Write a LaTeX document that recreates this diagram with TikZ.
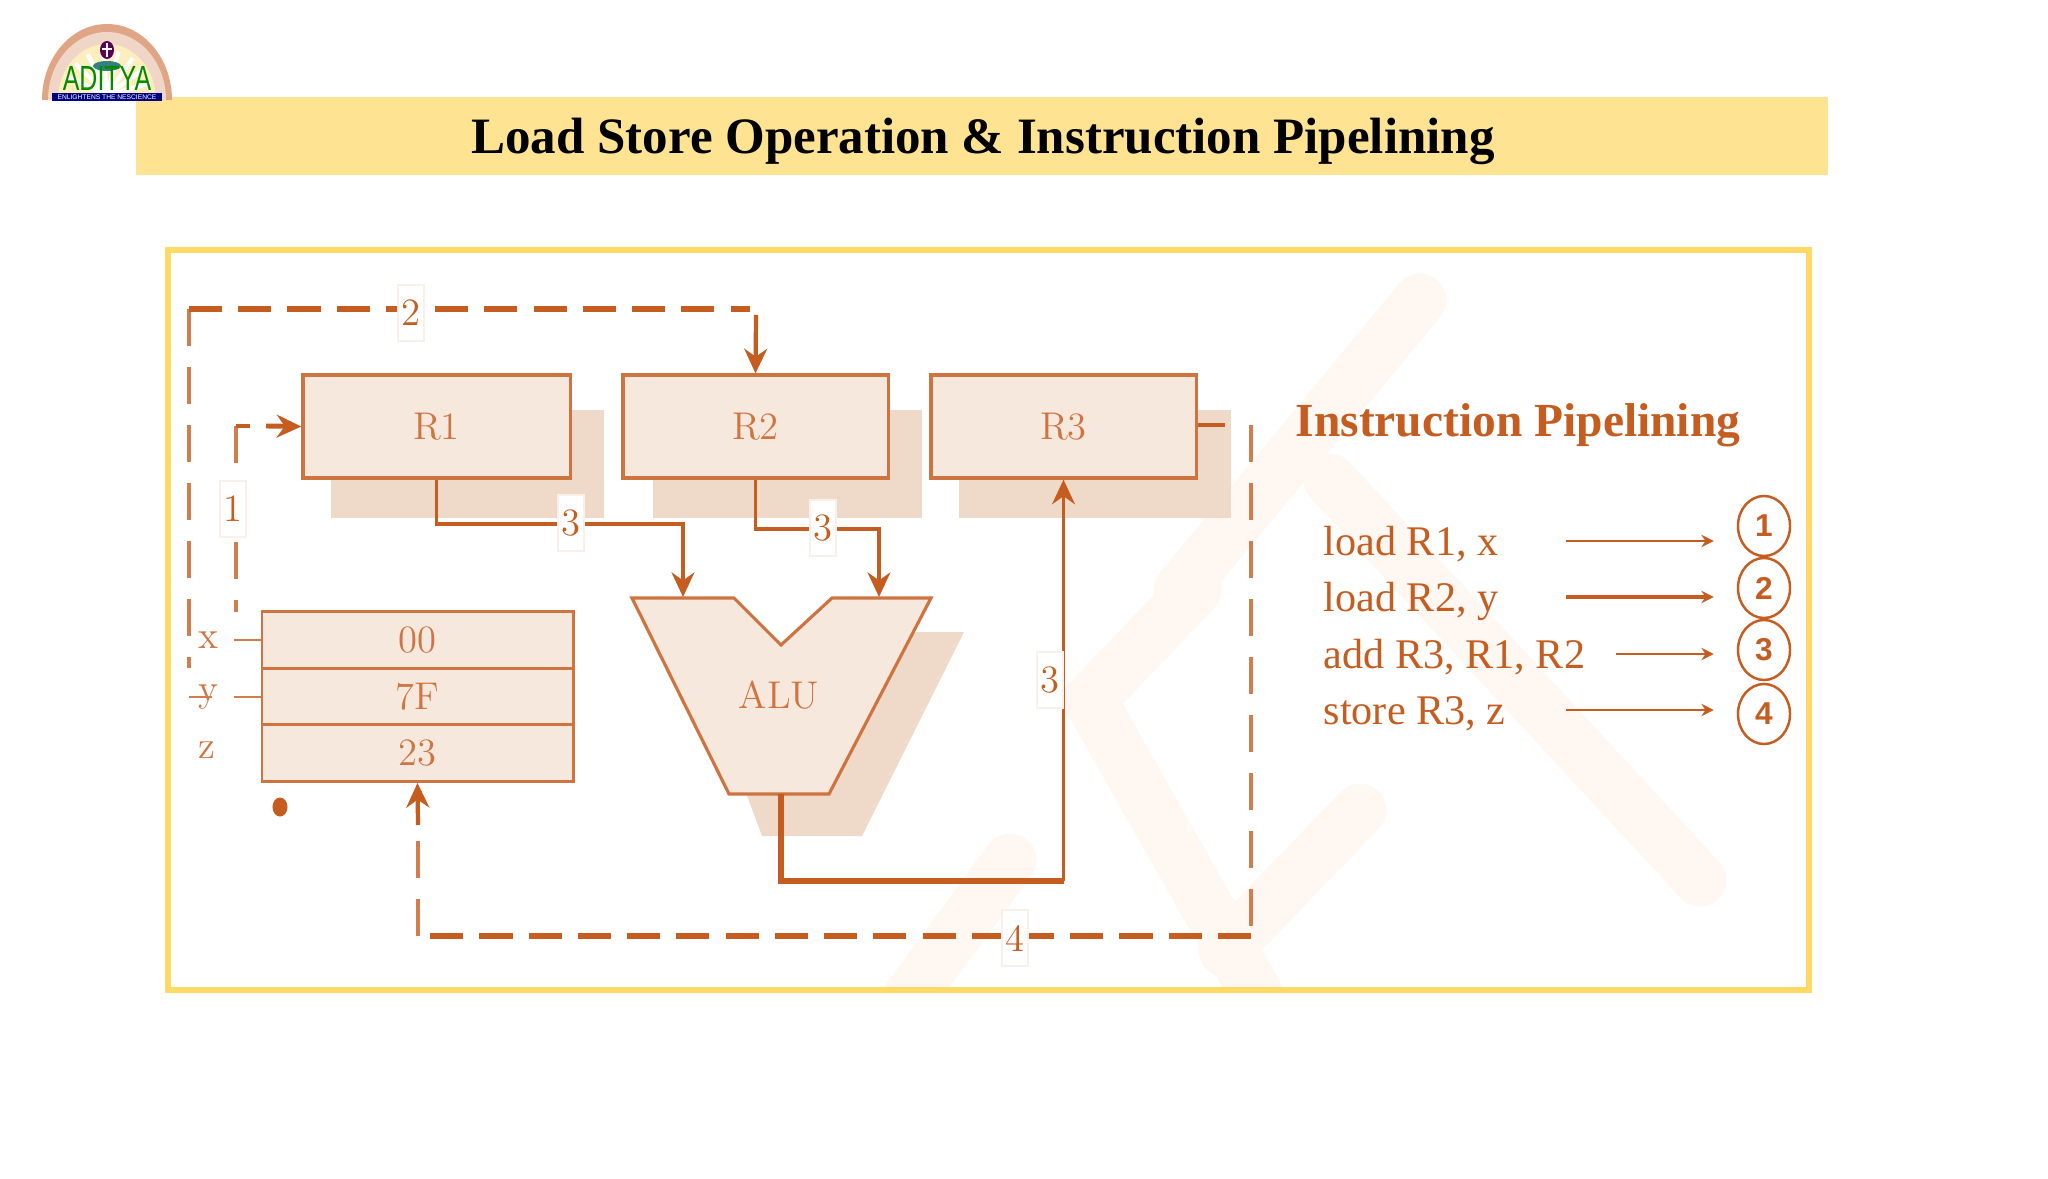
\documentclass[tikz,border=0pt]{standalone}
\usepackage{fontspec}
\newfontfamily\timesfont{Liberation Serif}
\newfontfamily\numfont{Liberation Sans}
\usetikzlibrary{arrows.meta, shapes.geometric}
\definecolor{band}{RGB}{253,227,146}
\definecolor{frameline}{RGB}{255,217,102}
\definecolor{rust}{RGB}{197,92,32}
\definecolor{boxfill}{RGB}{247,232,222}
\definecolor{dropfill}{RGB}{239,217,200}
\definecolor{wmark}{RGB}{254,247,242}
\tikzset{
    regbox/.style={draw=rust!85, line width=.9pt, fill=boxfill, text=rust!85, minimum width=2.65cm, minimum height=1.03cm, inner sep=0pt, font=\fontsize{11}{11}\selectfont},
    memcell/.style={draw=rust!85, line width=.8pt, fill=boxfill, text=rust!85, minimum width=3.11cm, minimum height=.57cm, inner sep=0pt, font=\fontsize{11}{11}\selectfont},
    flowline/.style={draw=rust, line width=1pt},
    dashh/.style={draw=rust, line width=1.8pt, dash pattern=on 9.4pt off 4.6pt},
    dashv/.style={draw=rust!80, line width=1pt, dash pattern=on 10.5pt off 6pt},
    stepnum/.style={fill=white, draw=dropfill!40, line width=.3pt, text=rust, inner sep=1pt, minimum height=.56cm, minimum width=.2cm, font=\fontsize{11}{11}\selectfont},
    instr/.style={text=rust, anchor=west, inner sep=0pt, font=\timesfont\fontsize{12}{12}\selectfont},
    numring/.style={draw=rust, ellipse, line width=.7pt, minimum width=.52cm, minimum height=.6cm, inner sep=0pt, text=rust, font=\numfont\bfseries\fontsize{9}{9}\selectfont},
    wbar/.style={draw=wmark, line width=15pt, line cap=round},
}
\begin{document}
\begin{tikzpicture}[x=0.01cm, y=-0.01cm, >={Stealth[length=7pt,width=6.5pt]}]
    \useasboundingbox (0,0) rectangle (2048,1179);
    \fill[white] (0,0) rectangle (2048,1179);
    % Watermark
    \begin{scope}
        \clip (168,249) rectangle (1809,991);
        \draw[wbar] (1420,300) -- (1180,590);
        \draw[wbar] (1330,480) -- (1700,880);
        \draw[wbar] (1195,590) -- (1090,700) -- (1260,1000);
        \draw[wbar] (1360,810) -- (1225,950);
        \draw[wbar] (1010,860) -- (900,1010);
    \end{scope}
    % Title band
    \fill[band] (136,97) rectangle (1828,175);
    \node[inner sep=0pt, font=\timesfont\bfseries\fontsize{14.5}{14.5}\selectfont] (title) at (983,141) {Load Store Operation \& Instruction Pipelining};
    \draw[frameline, line width=1.9pt] (168,250) rectangle (1809,990);
    % Logo
    \fill[rust!55] (42,100) arc[start angle=180, end angle=360, x radius=65, y radius=76];
    \fill[white!75!rust] (48,100) arc[start angle=180, end angle=360, x radius=59, y radius=68];
    \fill[band!60] (58,100) arc[start angle=180, end angle=360, x radius=49, y radius=56];
    \foreach \a in {15,35,...,165}
        \draw[white, line width=1.2pt] (107,95) -- ++({-\a}:45);
    \fill[violet!70!black] (107,50) ellipse (7 and 9);
    \draw[white, line width=.5pt] (107,43) -- (107,57) (102,49) -- (112,49);
    \fill[teal!60!gray] (107,66) ellipse (14 and 5);
    \node[inner sep=0pt, text=green!55!black, font=\numfont\fontsize{7.1}{7.1}\selectfont] (logoname) at (107,78) {\scalebox{1}[1.4]{ADITYA}};
    \fill[blue!50!black] (52,93) rectangle (162,101);
    \node[inner sep=0pt, text=white, font=\numfont\fontsize{1.9}{1.9}\selectfont] (logomotto) at (107,97) {ENLIGHTENS THE NESCIENCE};
    % Registers with their shadows
    \fill[dropfill] (331,410) rectangle (604,518);
    \fill[dropfill] (653,410) rectangle (922,518);
    \fill[dropfill] (959,410) rectangle (1231,518);
    \node[regbox, minimum width=2.67cm] (R1) at (436.5,426.5) {R1};
    \node[regbox] (R2) at (755.5,426.5) {R2};
    \node[regbox] (R3) at (1063.5,426.5) {R3};
    % ALU
    \fill[dropfill] (900,632) -- (964,632) -- (862,836) -- (762,836) -- (745,790) -- cycle;
    \draw[draw=rust!85, line width=.9pt, fill=boxfill] (632,598) -- (734,598) -- (781,645) -- (832,598) -- (931,598) -- (829,794) -- (729,794) -- cycle;
    \node[text=rust!85, inner sep=0pt, font=\fontsize{11}{11}\selectfont] (ALU) at (779,695) {ALU};
    \coordinate (alua) at (683,597);
    \coordinate (alub) at (879,597);
    \coordinate (aluo) at (781,794);
    % Memory
    \node[memcell] (mema) at (417.5,640) {00};
    \node[memcell] (memb) at (417.5,697) {7F};
    \node[memcell] (memc) at (417.5,753) {23};
    \node[text=rust!85, inner sep=0pt, font=\fontsize{11}{11}\selectfont] (xlabel) at (208,640) {x};
    \node[text=rust!85, inner sep=0pt, font=\fontsize{11}{11}\selectfont] (ylabel) at (208,697) {y};
    \node[text=rust!85, inner sep=0pt, font=\fontsize{11}{11}\selectfont] (zlabel) at (207,750) {z};
    \coordinate (xtick) at (234,640);
    \coordinate (ytick) at (234,697);
    \draw[draw=rust!80, line width=.8pt] (mema.west) -- (xtick);
    \draw[draw=rust!80, line width=.8pt] (memb.west) -- (ytick);
    \node[draw=none, fill=rust, ellipse, minimum width=.15cm, minimum height=.19cm, inner sep=0pt] (dot) at (280,807) {};
    % Step 1
    \coordinate (a0) at (236,612);
    \coordinate (a1) at (236,426);
    \coordinate (a2) at (266,426);
    \draw[dashv] (a1) -- (a0);
    \draw[draw=rust, line width=1.4pt] (a1) -- (250,426);
    \draw[->, draw=rust, line width=1.4pt] (a2) -- (R1.west);
    \node[stepnum] (s1) at (233,509) {1};
    % Step 2
    \coordinate (b0) at (212,697);
    \coordinate (b1) at (189,697);
    \coordinate (b2) at (189,309);
    \coordinate (b3) at (750,309);
    \coordinate (b4) at (756,315);
    \coordinate (b5) at (189,668);
    \draw[draw=rust!80, line width=.8pt] (b0) -- (b1);
    \draw[dashv] (b2) -- (b5);
    \draw[dashh] (b2) -- (b3);
    \draw[->, draw=rust, line width=1.2pt] (b4) -- (R2.north);
    \node[stepnum] (s2) at (411,313) {2};
    % Step 3
    \coordinate (c1) at (683,524);
    \coordinate (c2) at (879,529);
    \draw[->, flowline] (R1.south) |- (c1) -- (alua);
    \draw[->, flowline] (R2.south) |- (c2) -- (alub);
    \coordinate (c3) at (781,881);
    \coordinate (c4) at (1063.5,881);
    \draw[flowline, line width=1.5pt] (aluo) -- (c3) -- (c4);
    \draw[->, flowline] (c4) -- (R3.south);
    \node[stepnum] (s3a) at (571,523) {3};
    \node[stepnum] (s3b) at (823,528) {3};
    \node[stepnum] (s3c) at (1050,680) {3};
    % Step 4
    \coordinate (d1) at (1225,425);
    \coordinate (d2) at (1251,425);
    \coordinate (d3) at (1251,936);
    \coordinate (d4) at (425,936);
    \coordinate (d5) at (418,936);
    \coordinate (d6) at (418,825);
    \draw[flowline, line width=1.4pt] (R3.east |- d1) -- (d1);
    \draw[dashv, line width=1.3pt] (d2) -- (d3);
    \draw[dashh] (d3) -- (d4);
    \draw[dashv, line width=1.2pt] (d5) -- (d6);
    \draw[->, draw=rust, line width=1.2pt] (d6) -- (memc.south);
    \node[stepnum] (s4) at (1015,938) {4};
    % Instruction list
    \node[inner sep=0pt, anchor=west, text=rust, font=\timesfont\bfseries\fontsize{13.5}{13.5}\selectfont] (head) at (1295,425) {Instruction Pipelining};
    \node[instr] (load1) at (1323,544) {load R1, x};
    \node[instr] (load2) at (1323,601) {load R2, y};
    \node[instr] (addop) at (1323,657) {add R3, R1, R2};
    \node[instr] (storeop) at (1323,714) {store R3, z};
    \node[numring] (n1) at (1764,526) {1};
    \node[numring] (n2) at (1764,588) {2};
    \node[numring] (n3) at (1764,650) {3};
    \node[numring] (n4) at (1764,714) {4};
    \coordinate (e1) at (1566,541);
    \coordinate (e2) at (1566,597);
    \coordinate (e3) at (1616,654);
    \coordinate (e4) at (1566,710);
    \draw[-{Stealth[length=3.5pt,width=3.5pt]}, draw=rust, line width=.7pt, shorten >=.23cm] (e1) -- (e1 -| n1.west);
    \draw[-{Stealth[length=3.5pt,width=3.5pt]}, draw=rust, line width=1pt, shorten >=.23cm] (e2) -- (e2 -| n2.west);
    \draw[-{Stealth[length=3.5pt,width=3.5pt]}, draw=rust, line width=.7pt, shorten >=.23cm] (e3) -- (e3 -| n3.west);
    \draw[-{Stealth[length=3.5pt,width=3.5pt]}, draw=rust, line width=.7pt, shorten >=.23cm] (e4) -- (e4 -| n4.west);
\end{tikzpicture}
\end{document}
